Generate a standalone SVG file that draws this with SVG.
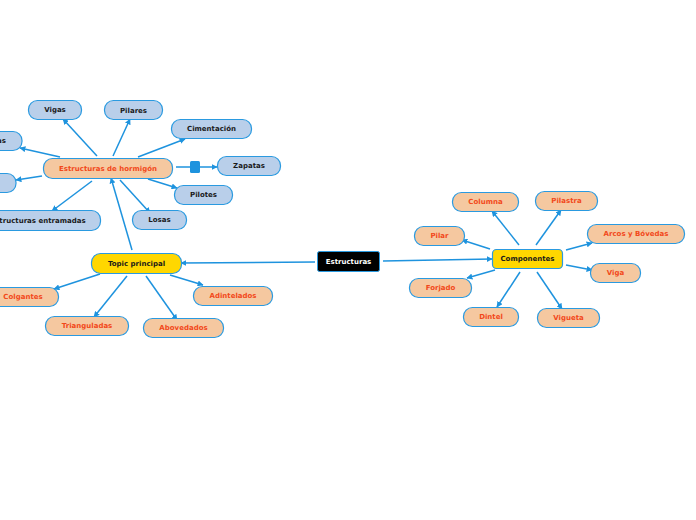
<svg xmlns="http://www.w3.org/2000/svg" width="696" height="520" viewBox="0 0 696 520">
<style>
text{font-family:"DejaVu Sans","Verdana",sans-serif;font-weight:bold;font-size:7px;text-anchor:middle;dominant-baseline:central}
.blue rect{fill:#b9cfea;stroke:#2a9ae0;stroke-width:1.2}
.blue text{fill:#1a1a1a}
.peach rect{fill:#f5c8a0;stroke:#2a9ae0;stroke-width:1.2}
.peach text{fill:#f2481b}
.yellow rect{fill:#ffd700;stroke:#2a9ae0;stroke-width:1.2}
.yellow text{fill:#1a1a1a}
.conn line{stroke:#1e93de;stroke-width:1.5;fill:none;marker-end:url(#ah)}
</style>
<defs>
<marker id="ah" viewBox="0 0 10 10" refX="9" refY="5" markerWidth="6" markerHeight="6" markerUnits="userSpaceOnUse" orient="auto">
<path d="M0,0 L10,5 L0,10 z" fill="#1e93de"/>
</marker>
</defs>
<rect width="696" height="520" fill="#ffffff"/>
<g id="connectors" class="conn">
<line x1="315" y1="262" x2="181" y2="263"/>
<line x1="383" y1="261" x2="492" y2="259"/>
<line x1="132" y1="250" x2="111" y2="178"/>
<line x1="100" y1="274" x2="54" y2="289"/>
<line x1="127" y1="276" x2="94" y2="317"/>
<line x1="146" y1="276" x2="177" y2="320"/>
<line x1="170" y1="275" x2="203" y2="285"/>
<line x1="97" y1="156" x2="63" y2="119"/>
<line x1="113" y1="156" x2="130" y2="119"/>
<line x1="138" y1="157" x2="185" y2="139"/>
<line x1="60" y1="157" x2="20" y2="148"/>
<line x1="42" y1="176" x2="16" y2="180"/>
<line x1="92" y1="181" x2="52" y2="211"/>
<line x1="120" y1="180" x2="150" y2="213"/>
<line x1="148" y1="179" x2="177" y2="188"/>
<line x1="176" y1="167" x2="217" y2="167"/>
<line x1="519" y1="245" x2="492" y2="211"/>
<line x1="536" y1="245" x2="561" y2="210"/>
<line x1="490" y1="249" x2="462" y2="240"/>
<line x1="566" y1="250" x2="592" y2="243"/>
<line x1="566" y1="265" x2="592" y2="270"/>
<line x1="495" y1="270" x2="467" y2="278"/>
<line x1="520" y1="272" x2="497" y2="307"/>
<line x1="537" y1="272" x2="562" y2="309"/>
<rect x="190" y="161" width="10" height="12" rx="1.5" fill="#1e93de"/>
</g>
<g id="estructuras">
<rect x="317.5" y="251.5" width="62" height="20" rx="2" fill="#000000" stroke="#2a9ae0" stroke-width="1"/>
<text x="348.5" y="261.5" fill="#ffffff">Estructuras</text>
</g>
<g id="topic-principal" class="yellow">
<rect x="91.5" y="253.5" width="90" height="20" rx="9"/>
<text x="136.5" y="263.5">Topic principal</text>
</g>
<g id="componentes" class="yellow">
<rect x="492.5" y="249.5" width="70" height="19" rx="4"/>
<text x="527.5" y="259">Componentes</text>
</g>
<g id="hormigon" class="peach">
<rect x="43.5" y="158.5" width="129" height="20" rx="9"/>
<text x="108" y="168.5">Estructuras de hormigón</text>
</g>
<g id="vigas" class="blue">
<rect x="28.5" y="100.5" width="53" height="19" rx="9"/>
<text x="55" y="110">Vigas</text>
</g>
<g id="pilares" class="blue">
<rect x="104.5" y="100.5" width="58" height="19" rx="9"/>
<text x="133.5" y="110.5">Pilares</text>
</g>
<g id="cimentacion" class="blue">
<rect x="171.5" y="119.5" width="80" height="19" rx="9"/>
<text x="211.5" y="129">Cimentación</text>
</g>
<g id="node-as" class="blue">
<rect x="-40" y="131.5" width="62" height="19" rx="9"/>
<text x="6" y="141" style="text-anchor:end">as</text>
</g>
<g id="node-left" class="blue">
<rect x="-40" y="173.5" width="56" height="19" rx="9"/>
</g>
<g id="zapatas" class="blue">
<rect x="217.5" y="156.5" width="63" height="19" rx="9"/>
<text x="249" y="166">Zapatas</text>
</g>
<g id="pilotes" class="blue">
<rect x="174.5" y="185.5" width="58" height="19" rx="9"/>
<text x="203.5" y="195">Pilotes</text>
</g>
<g id="entramadas" class="blue">
<rect x="-20" y="210.5" width="120.5" height="20" rx="9"/>
<text x="38" y="220.5">Estructuras entramadas</text>
</g>
<g id="losas" class="blue">
<rect x="132.5" y="210.5" width="54" height="19" rx="9"/>
<text x="159.5" y="220">Losas</text>
</g>
<g id="colgantes" class="peach">
<rect x="-20" y="287.5" width="78.5" height="19" rx="9"/>
<text x="23" y="297">Colgantes</text>
</g>
<g id="adintelados" class="peach">
<rect x="193.5" y="286.5" width="79" height="19" rx="9"/>
<text x="233" y="296">Adintelados</text>
</g>
<g id="trianguladas" class="peach">
<rect x="45.5" y="316.5" width="83" height="19" rx="9"/>
<text x="87" y="326">Trianguladas</text>
</g>
<g id="abovedados" class="peach">
<rect x="143.5" y="318.5" width="80" height="19" rx="9"/>
<text x="183.5" y="328">Abovedados</text>
</g>
<g id="columna" class="peach">
<rect x="452.5" y="192.5" width="66" height="19" rx="9"/>
<text x="485.5" y="202">Columna</text>
</g>
<g id="pilastra" class="peach">
<rect x="535.5" y="191.5" width="62" height="19" rx="9"/>
<text x="566.5" y="201">Pilastra</text>
</g>
<g id="pilar" class="peach">
<rect x="414.5" y="226.5" width="50" height="19" rx="9"/>
<text x="439.5" y="236">Pilar</text>
</g>
<g id="arcos" class="peach">
<rect x="587.5" y="224.5" width="97" height="19" rx="9"/>
<text x="636" y="234">Arcos y Bóvedas</text>
</g>
<g id="viga" class="peach">
<rect x="590.5" y="263.5" width="50" height="19" rx="9"/>
<text x="615.5" y="273">Viga</text>
</g>
<g id="forjado" class="peach">
<rect x="409.5" y="278.5" width="62" height="19" rx="9"/>
<text x="440.5" y="288">Forjado</text>
</g>
<g id="dintel" class="peach">
<rect x="463.5" y="307.5" width="55" height="19" rx="9"/>
<text x="491" y="317">Dintel</text>
</g>
<g id="vigueta" class="peach">
<rect x="537.5" y="308.5" width="62" height="19" rx="9"/>
<text x="568.5" y="318">Vigueta</text>
</g>
</svg>
